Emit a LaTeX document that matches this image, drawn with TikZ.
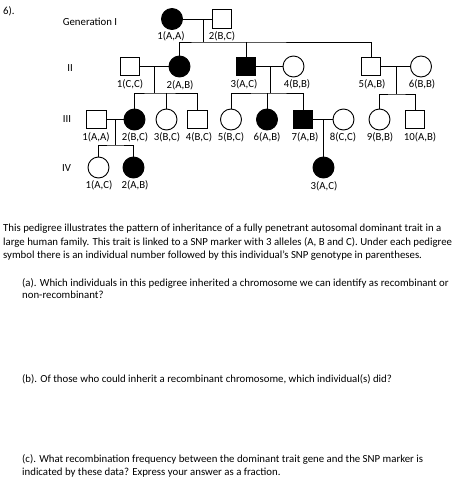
\documentclass[tikz,border=0pt]{standalone}
\usepackage{fontspec}
\setmainfont{Carlito}
\begin{document}
\begin{tikzpicture}[x=1pt,y=-1pt,
  every node/.style={inner sep=0pt},
  male/.style={draw, rectangle, minimum width=19.5pt, minimum height=18.5pt, fill=white, line width=0.9pt},
  female/.style={draw, circle, minimum size=21pt, fill=white, line width=0.9pt},
  aff/.style={fill=black},
  lab/.style={anchor=base, font=\fontsize{10.8}{12}\selectfont},
  txt/.style={anchor=base west, font=\fontsize{10.8}{12}\selectfont},
  link/.style={line width=0.9pt}]
\useasboundingbox (0,0) rectangle (467,488);
% title and generation labels
\node[txt] (t6) at (3,14) {6).};
\node[lab] (gI) at (90,25.5) {Generation I};
\node[lab] (gII) at (70,71.5) {II};
\node[lab] (gIII) at (67,122) {III};
\node[lab] (gIV) at (66.5,171.5) {IV};
% Generation I
\node[female,aff] (I1) at (172,19) {};
\node[male] (I2) at (222,19) {};
% Generation II
\node[male] (II1) at (130,66.5) {};
\node[female,aff] (II2) at (179.5,66.5) {};
\node[male,aff] (II3) at (246,66.5) {};
\node[female] (II4) at (293.5,66.5) {};
\node[male] (II5) at (371,66.5) {};
\node[female] (II6) at (421,66.5) {};
% Generation III
\node[male] (III1) at (96.5,119.5) {};
\node[female,aff] (III2) at (134.5,119.5) {};
\node[female] (III3) at (166.5,119.5) {};
\node[male] (III4) at (197.5,119.5) {};
\node[female] (III5) at (231,119.5) {};
\node[female,aff] (III6) at (267,119.5) {};
\node[male,aff] (III7) at (303,119.5) {};
\node[female] (III8) at (343.5,119.5) {};
\node[female] (III9) at (379.5,119.5) {};
\node[male] (III10) at (415,119.5) {};
% Generation IV
\node[female] (IV1) at (98.5,167.5) {};
\node[female,aff] (IV2) at (133.5,167.5) {};
\node[female,aff] (IV3) at (323.5,167.5) {};
% labels
\node[lab] (lI1) at (171,39) {1(A,A)};
\node[lab] (lI2) at (222,39) {2(B,C)};
\node[lab] (lII1) at (130,87.5) {1(C,C)};
\node[lab] (lII2) at (180,88.5) {2(A,B)};
\node[lab] (lII3) at (244,87.5) {3(A,C)};
\node[lab] (lII4) at (297,87.5) {4(B,B)};
\node[lab] (lII5) at (372,87.5) {5(A,B)};
\node[lab] (lII6) at (422,87.5) {6(B,B)};
\node[lab] (lIII1) at (96,140) {1(A,A)};
\node[lab] (lIII2) at (135,140) {2(B,C)};
\node[lab] (lIII3) at (167,140) {3(B,C)};
\node[lab] (lIII4) at (199,140) {4(B,C)};
\node[lab] (lIII5) at (231,140) {5(B,C)};
\node[lab] (lIII6) at (267,140) {6(A,B)};
\node[lab] (lIII7) at (305,140) {7(A,B)};
\node[lab] (lIII8) at (343,140) {8(C,C)};
\node[lab] (lIII9) at (380,140) {9(B,B)};
\node[lab] (lIII10) at (420,140) {10(A,B)};
\node[lab] (lIV1) at (99,188.5) {1(A,C)};
\node[lab] (lIV2) at (135,188.5) {2(A,B)};
\node[lab] (lIV3) at (324,189) {3(A,C)};
% marriage and descent coordinates
\coordinate (m1) at (203,19);
\coordinate (s1) at (203,42);
\coordinate (m2) at (154,66.5);
\coordinate (s2) at (154,93);
\coordinate (m3) at (270,66.5);
\coordinate (s3) at (270,93);
\coordinate (m4) at (396,66.5);
\coordinate (s4) at (396,94);
\coordinate (m5) at (115,119.5);
\coordinate (s5) at (115,145);
\coordinate (m6) at (323.5,119.5);
% connectors
\draw[link] (I1.east) -- (I2.west);
\draw[link] (m1) -- (s1);
\draw[link] (II2.north) |- (s1) -| (II5.north);
\draw[link] (II3.north) -- (II3.north |- s1);
\draw[link] (II1.east) -- (II2.west);
\draw[link] (II3.east) -- (II4.west);
\draw[link] (II5.east) -- (II6.west);
\draw[link] (m2) -- (s2);
\draw[link] (III2.north) |- (s2) -| (III4.north);
\draw[link] (III3.north) -- (III3.north |- s2);
\draw[link] (m3) -- (s3);
\draw[link] (III5.north) |- (s3) -| (III7.north);
\draw[link] (III6.north) -- (III6.north |- s3);
\draw[link] (m4) -- (s4);
\draw[link] (III9.north) |- (s4) -| (III10.north);
\draw[link] (III1.east) -- (III2.west);
\draw[link] (III7.east) -- (III8.west);
\draw[link] (m5) -- (s5);
\draw[link] (IV1.north) |- (s5) -| (IV2.north);
\draw[link] (m6) -- (IV3.north);
% paragraph text
\node[txt] (p1) at (3,231) {This pedigree illustrates the pattern of inheritance of a fully penetrant autosomal dominant trait in a};
\node[txt] (p2) at (3,245) {large human family. This trait is linked to a SNP marker with 3 alleles (A, B and C). Under each pedigree};
\node[txt] (p3) at (3,258) {symbol there is an individual number followed by this individual's SNP genotype in parentheses.};
\node[txt] (qa1) at (22,286) {(a). Which individuals in this pedigree inherited a chromosome we can identify as recombinant or};
\node[txt] (qa2) at (22,298.5) {non-recombinant?};
\node[txt] (qb) at (22,382.5) {(b). Of those who could inherit a recombinant chromosome, which individual(s) did?};
\node[txt] (qc1) at (22,462) {(c). What recombination frequency between the dominant trait gene and the SNP marker is};
\node[txt] (qc2) at (22,475.5) {indicated by these data? Express your answer as a fraction.};
\end{tikzpicture}
\end{document}
